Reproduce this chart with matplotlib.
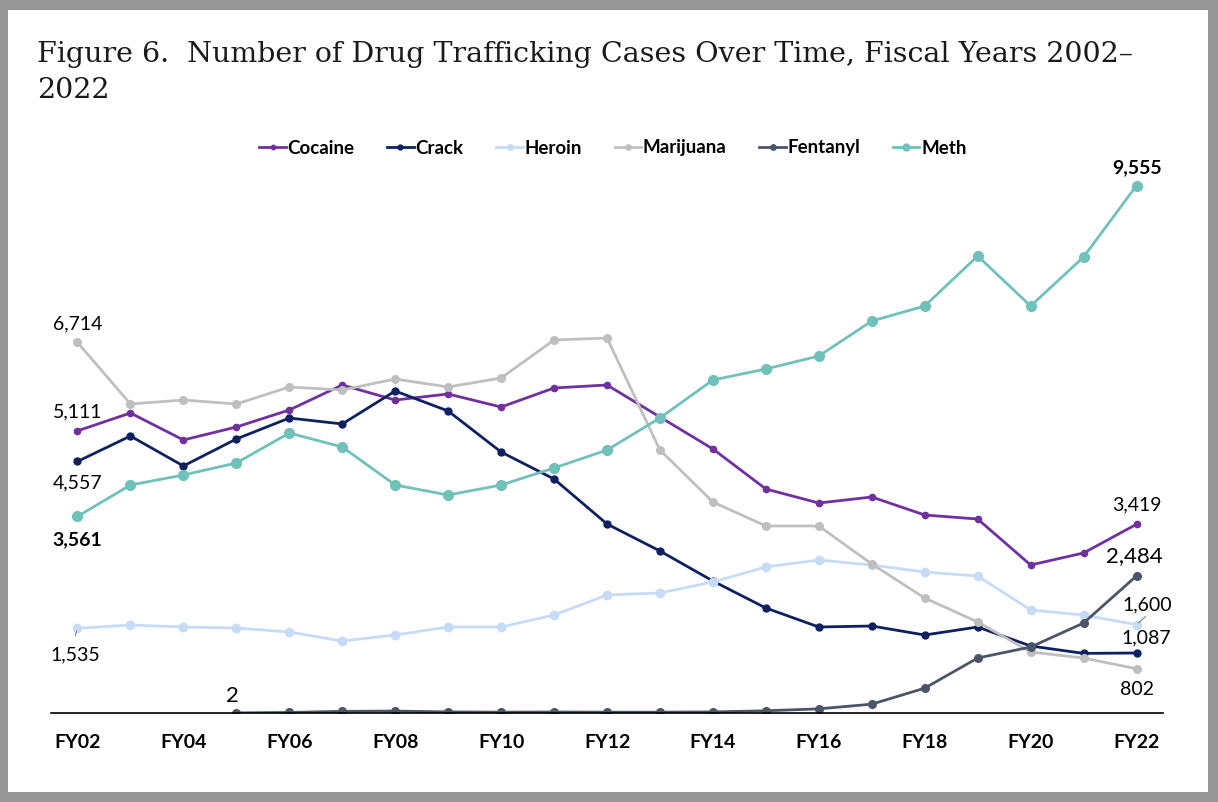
import numpy as np
import matplotlib.pyplot as plt
from matplotlib.patches import Rectangle

years = [f"FY{y:02d}" for y in range(2, 23)]

cocaine = [5111, 5435, 4946, 5181, 5489, 5942, 5670, 5779, 5543, 5888, 5942,
           5362, 4783, 4058, 3804, 3913, 3587, 3514, 2681, 2899, 3419]
crack = [4557, 5018, 4475, 4964, 5344, 5236, 5833, 5471, 4728, 4239, 3424,
         2935, 2391, 1902, 1558, 1576, 1413, 1558, 1214, 1080, 1087]
heroin = [1535, 1594, 1558, 1540, 1467, 1304, 1413, 1558, 1558, 1775, 2138,
          2174, 2373, 2645, 2772, 2681, 2554, 2482, 1866, 1775, 1600]
marijuana = [6714, 5598, 5670, 5598, 5906, 5851, 6051, 5906, 6069, 6757, 6793,
             4764, 3822, 3388, 3388, 2699, 2083, 1649, 1105, 996, 802]
fentanyl = [np.nan, np.nan, np.nan, 2, 10, 30, 35, 20, 15, 18, 15,
            15, 20, 40, 75, 160, 450, 996, 1195, 1630, 2484]
meth = [3561, 4130, 4311, 4529, 5072, 4819, 4130, 3949, 4130, 4438, 4764,
        5344, 6033, 6232, 6467, 7101, 7373, 8279, 7373, 8261, 9555]

series = [
    ("Cocaine", cocaine, "#7030a0", 4.5),
    ("Crack", crack, "#0d2160", 5),
    ("Heroin", heroin, "#c6dcf6", 6),
    ("Marijuana", marijuana, "#bfbfbf", 5.5),
    ("Fentanyl", fentanyl, "#4a5568", 5.5),
    ("Meth", meth, "#6fc1b9", 7),
]

plt.rcParams['font.family'] = ['Lato', 'DejaVu Sans']

fig = plt.figure(figsize=(12.18, 8.02), dpi=100)
fig.patch.set_facecolor('#969696')
fig.add_artist(Rectangle((8 / 1218, 10 / 802), 1200 / 1218, 782 / 802,
                         transform=fig.transFigure, facecolor='white',
                         edgecolor='none', zorder=0))

ax = fig.add_axes([51 / 1218, 89 / 802, 1112 / 1218, 552 / 802])
ax.set_facecolor('none')
x = np.arange(len(years))
for name, vals, color, ms in series:
    ax.plot(x, vals, '-o', color=color, lw=2.0, ms=ms, label=name)

ax.set_xlim(-0.5, 20.5)
ax.set_ylim(0, 10000)
ax.set_xticks(x[::2])
ax.set_xticklabels(years[::2], fontsize=14, fontweight='bold')
ax.tick_params(axis='x', length=0, pad=15)
ax.set_yticks([])
for s in ['top', 'right', 'left']:
    ax.spines[s].set_visible(False)
ax.spines['bottom'].set_linewidth(1.2)
ax.spines['bottom'].set_color('black')

# data labels
labels = [
    (0, marijuana[0], "6,714", (0, 19), 'normal', 14),
    (0, cocaine[0], "5,111", (0, 19), 'normal', 14),
    (0, crack[0], "4,557", (0, -21), 'normal', 14),
    (0, meth[0], "3,561", (0, -23), 'bold', 14),
    (0, heroin[0], "1,535", (-2, -27), 'normal', 14),
    (3, fentanyl[3], "2", (-4, 17), 'normal', 16),
    (20, meth[20], "9,555", (1, 18), 'bold', 14),
    (20, cocaine[20], "3,419", (0, 19), 'normal', 14),
    (20, fentanyl[20], "2,484", (-2, 20), 'normal', 16),
    (20, heroin[20], "1,600", (11, 20), 'normal', 14),
    (20, crack[20], "1,087", (10, 15), 'normal', 14),
    (20, marijuana[20], "802", (0, -21), 'normal', 14),
]
for xi, yv, txt, off, fw, fs in labels:
    ax.annotate(txt, (xi, yv), xytext=off, textcoords='offset pixels',
                ha='center', va='center', fontsize=fs, fontweight=fw,
                color='black')

# leader lines
ax.annotate("", (0, heroin[0]), xytext=(-3, -10), textcoords='offset pixels',
            arrowprops=dict(arrowstyle='-', color='#808080', lw=0.8))
ax.annotate("", (20, heroin[20]), xytext=(11, 10), textcoords='offset pixels',
            arrowprops=dict(arrowstyle='-', color='#808080', lw=0.8))

ax.legend(loc='center', bbox_to_anchor=(613 / 1218, 654 / 802),
          bbox_transform=fig.transFigure, ncol=6, frameon=False,
          handlelength=1.4, handletextpad=0.1, columnspacing=1.75,
          prop={'size': 13.5, 'weight': 'bold'}, markerscale=0.7)

fig.text(37 / 1218, 1 - 55 / 802,
         "Figure 6.  Number of Drug Trafficking Cases Over Time, Fiscal Years 2002\u2013",
         family='DejaVu Serif', fontsize=20.5, color='#1a1a1a', va='center', ha='left')
fig.text(37 / 1218, 1 - 91 / 802, "2022",
         family='DejaVu Serif', fontsize=20.5, color='#1a1a1a', va='center', ha='left')

fig.savefig('out.png', dpi=100, facecolor=fig.get_facecolor())
